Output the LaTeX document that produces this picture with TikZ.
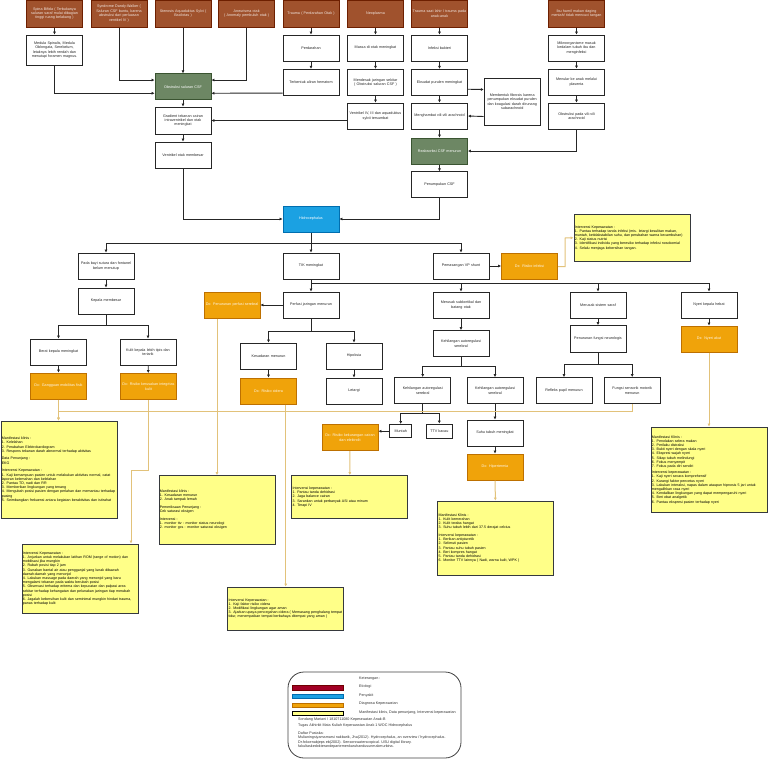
\documentclass[tikz,border=0pt]{standalone}
\usepackage{fontspec}
\setmainfont{Liberation Sans}
\usetikzlibrary{arrows.meta}
\hyphenpenalty=10000
\exhyphenpenalty=10000
\definecolor{brownfill}{HTML}{A0522D}
\definecolor{brownline}{HTML}{6D1F00}
\definecolor{greenfill}{HTML}{6D8764}
\definecolor{greenline}{HTML}{3A5431}
\definecolor{bluefill}{HTML}{1BA1E2}
\definecolor{blueline}{HTML}{006EAF}
\definecolor{orangefill}{HTML}{F0A30A}
\definecolor{orangeline}{HTML}{BD7000}
\definecolor{yellowfill}{HTML}{FFFF88}
\definecolor{yellowline}{HTML}{36393D}
\definecolor{redfill}{HTML}{A20025}
\definecolor{redline}{HTML}{6F0000}
\definecolor{tanline}{HTML}{E2C27A}
\tikzset{
  basebox/.style={draw,line width=1pt,inner sep=0.5pt,align=center,text width=55pt,minimum width=56pt,minimum height=26pt,font=\fontsize{3.7}{4.4}\selectfont},
  whitebox/.style={basebox,draw=black!85,fill=white,text=black!85},
  brownbox/.style={basebox,draw=brownline,fill=brownfill,text=white!85!brownfill,minimum height=27pt},
  greenbox/.style={basebox,draw=greenline,fill=greenfill,text=white},
  bluebox/.style={basebox,draw=blueline,fill=bluefill,text=white},
  dxbox/.style={basebox,draw=orangeline,fill=orangefill,text=white!90!orangefill},
  notebox/.style={draw=yellowline,line width=1pt,fill=yellowfill,inner sep=0.8pt,align=left,minimum width=116pt,text width=114.4pt,font=\fontsize{3.6}{4.2}\selectfont},
  swatch/.style={draw,line width=0.8pt,minimum width=51pt,minimum height=4.5pt,inner sep=0pt,anchor=west},
  legendtext/.style={anchor=west,inner sep=0pt,font=\fontsize{3.7}{4.4}\selectfont,text=black!80},
  flow/.style={draw=black!85,line width=0.9pt,-{Latex[length=2.8pt,width=3pt]}},
  plainflow/.style={draw=black!85,line width=0.9pt},
  noteflow/.style={draw=tanline,line width=1pt,-{Latex[length=2.8pt,width=3pt]}}
}
\begin{document}
\begin{tikzpicture}[x=1pt,y=-1pt]
  \useasboundingbox (0,0) rectangle (768,763);
  % etiology row
  \node [brownbox] (spina) at (54.5,13.5) {Spina Bifida ( Terbukanya\\saluran saraf mulai dibagian\\tinggi ruang belakang )};
  \node [brownbox] (dandy) at (119,13.5) {Syndrome Dandy-Walker (\\Saluran CSF buntu, karena\\abstruksi dari perluasan\\ventikel IV )};
  \node [brownbox] (stenosis) at (183,13.5) {Stenosis Aquaduktus Sylvi (\\Bacilotas )};
  \node [brownbox] (aneurisma) at (246.7,13.5) {Aneurisma otak\\( Anomaly pembuluh otak )};
  \node [brownbox] (trauma) at (311,13.5) {Trauma ( Perdarahan Otak )};
  \node [brownbox] (neoplasma) at (375.5,13.5) {Neoplasma};
  \node [brownbox] (lahir) at (439.5,13.5) {Trauma saat lahir / trauma pada\\anak-anak};
  \node [brownbox] (ibu) at (576.5,13.5) {Ibu hamil makan daging\\mentah/ tidak mencuci tangan};
  % white boxes, top part
  \node [whitebox,minimum height=30pt] (medula) at (54.5,50) {Medula Spinalis, Medula\\Oblongata, Serebelum,\\letaknya lebih rendah dan\\menutupi foramen magnus.};
  \node [whitebox] (perdarahan) at (311,48) {Perdarahan};
  \node [whitebox] (hematom) at (311,82.25) {Terbentuk aliran hematom};
  \node [whitebox] (massa) at (375.5,48) {Massa di otak meningkat};
  \node [whitebox] (mendesak) at (375.5,82.25) {Mendesak jaringan sekitar\\( Obstruksi saluran CSF )};
  \node [whitebox] (ventiv) at (375.5,116) {Ventrikel IV, III dan aquaduktus\\sylvii tersumbat};
  \node [whitebox] (infeksi) at (439.5,48) {Infeksi bakteri};
  \node [whitebox] (eksudat) at (439.5,82.25) {Eksudat purulen meningkat};
  \node [whitebox] (vili) at (439.5,116) {Menghambat vili-vili arachnoid};
  \node [whitebox,minimum height=47pt] (fibrosis) at (512.2,101.5) {Membentuk fibrosis karena\\penumpukan eksudat purulen\\dan koagulasi darah dirunang\\subarachnoid};
  \node [whitebox] (mikro) at (576.5,48) {Mikroorganisme masuk\\kedalam tubuh ibu dan\\menginfeksi};
  \node [whitebox] (plasenta) at (576.5,82) {Menular ke anak melalui\\plasenta};
  \node [whitebox] (obsvili) at (576.5,116) {Obstruksi pada vili-vili\\arachnoid};
  % middle column
  \node [greenbox] (obstruksi) at (183,86.75) {Obstruksi saluran CSF};
  \node [whitebox,minimum height=27pt] (gradient) at (183,120.5) {Gradient tekanan cairan\\intraventrikel dan otak\\meningkat};
  \node [whitebox] (membesar) at (183,155) {Ventrikel otak membesar};
  \node [greenbox] (reabsorbsi) at (439.5,151) {Reabsorbsi CSF menurun};
  \node [whitebox] (penumpukan) at (439.5,184.75) {Penumpukan CSF};
  % disease
  \node [bluebox] (hidro) at (311,219) {Hidrocephalus};
  \coordinate (simpang) at (311,243);
  \coordinate (tikbus) at (311,283);
  % left branch
  \node [whitebox] (bayi) at (106,266) {Pada bayi sutura dan fontanel\\belum menutup};
  \node [whitebox] (kepala) at (106,301) {Kepala membesar};
  \coordinate (kepalabus) at (106,325.5);
  \node [whitebox] (berat) at (58.5,352) {Berat kepala meningkat};
  \node [whitebox] (kulit) at (148,352) {Kulit kepala lebih tipis dan\\teriarik};
  \node [dxbox] (dxgerak) at (58.5,386) {Dx: Gangguan mobilitas fisik};
  \node [dxbox] (dxkulit) at (148.5,386.5) {Dx: Risiko kerusakan integritas\\kulit};
  % TIK branch
  \node [whitebox] (tik) at (311,266) {TIK meningkat};
  \node [whitebox] (perfusi) at (311,305) {Perfusi jaringan menurun};
  \node [dxbox] (dxperfusi) at (232,305) {Dx: Penurunan perfusi serebral};
  \coordinate (perfusibus) at (311,331);
  \node [whitebox] (sadar) at (268.5,356) {Kesadaran menurun};
  \node [whitebox] (hipoksia) at (354,356) {Hipoksia};
  \node [dxbox] (dxcidera) at (268.5,391) {Dx: Risiko cidera};
  \node [whitebox] (letargi) at (354,391) {Letargi};
  % shunt
  \node [whitebox] (shunt) at (461,266) {Pemasangan VP shunt};
  \node [dxbox] (dxinfeksi) at (529.5,266) {Dx: Risiko infeksi};
  % subkortikal
  \node [whitebox] (subkortikal) at (461,305) {Merusak subkortikal dan\\batang otak};
  \node [whitebox] (auto) at (461,343.5) {Kehilangan autoregulasi\\serebral};
  \coordinate (autobus) at (461,366);
  \node [whitebox] (autokiri) at (422.7,390.5) {Kehilangan autoregulasi\\serebral};
  \node [whitebox] (autokanan) at (495,390.5) {Kehilangan autoregulasi\\serebral};
  \coordinate (mualbus) at (422.7,413.5);
  \node [whitebox,minimum width=21.5pt,minimum height=13.5pt,text width=20pt] (muntah) at (400.7,431.2) {Muntah};
  \node [whitebox,minimum width=25.5pt,minimum height=14pt,text width=24pt] (ttv) at (439.3,431) {TTV kacau};
  \node [dxbox] (dxcairan) at (350,437.5) {Dx: Risiko kekurangan cairan\\dan elektrolit};
  \node [whitebox] (suhu) at (495,433) {Suhu tubuh meningkat};
  \node [dxbox] (dxhiper) at (495,467) {Dx: Hipertermia};
  % saraf
  \node [whitebox] (saraf) at (598,305) {Merusak sistem saraf};
  \node [whitebox,minimum height=27pt] (neuro) at (598,339) {Penurunan fungsi neurologis};
  \coordinate (neurobus) at (598,364.5);
  \node [whitebox] (pupil) at (564,390.5) {Refleks pupil menurun};
  \node [whitebox] (motorik) at (632.2,390.5) {Fungsi sensorik motorik\\menurun};
  % nyeri
  \node [whitebox] (nyeri) at (709,305) {Nyeri kepala hebat};
  \node [dxbox] (dxnyeri) at (709,339) {Dx: Nyeri akut};
  % notes
  \node [notebox,minimum height=47.5pt] (notinfeksi) at (632,237.75) {Intervensi Keperawatan :\\1. Pantau terhadap tanda infeksi (mis. letargi kesulitan makan,\\muntah, ketidakstabilan suhu, dan perubahan warna kecambuhan)\\2. Kaji status nutrisi\\3. Identifikasi individu yang beresiko terhadap infeksi nosokomial\\4. Selalu menjaga kebersihan tangan.};
  \node [notebox,minimum height=97pt] (notgerak) at (59,469.5) {Manifestasi klinis :\\1. Kelelahan\\2. Perubahan Elektrokardiogram\\3. Respons tekanan darah abnormal terhadap aktivitas\\[3.5pt]Data Penunjang :\\EKG\\[3.5pt]Intervensi Keperawatan :\\1. Kaji kemampuan pasien untuk melakukan aktivitas normal, catat laporan kelemahan dan kelelahan\\2. Pantau TD, nadi dan RR\\3. Memberikan lingkungan yang tenang\\4. Mengubah posisi pasien dengan perlahan dan memantau terhadap pusing\\5. Seimbangkan frekuensi antara kegiatan beraktivitas dan istirahat};
  \node [notebox,minimum height=69pt] (notkulit) at (80,578.5) {Intervensi Keperawatan :\\1. Anjurkan untuk melakukan latihan ROM (range of motion) dan mobilisasi jika mungkin\\2. Rubah posisi tiap 2 jam\\3. Gunakan bantal air atau pengganjal yang lunak dibawah daerah-daerah yang menonjol\\4. Lakukan massage pada daerah yang menonjol yang baru mengalami tekanan pada waktu berubah posisi\\5. Observasi terhadap eritema dan kepucatan dan palpasi area sekitar terhadap kehangatan dan pelunakan jaringan tiap merubah posisi\\6. Jagalah kebersihan kulit dan seminimal mungkin hindari trauma, panas terhadap kulit};
  \node [notebox,minimum height=68.5pt] (notperfusi) at (217,509.75) {Manifestasi klinis :\\1. Kesadaran menurun\\2. Anak tampak lemah\\[3.5pt]Pemeriksaan Penunjang :\\Cek saturasi oksigen\\[3.5pt]Intervensi :\\1. monitor ttv : monitor status neurologi\\2. monitor gcs : monitor saturasi oksigen\\[8pt]};
  \node [notebox,minimum height=43pt] (notcairan) at (349.7,497) {Intervensi keperawatan :\\1. Pantau tanda dehidrasi\\2. Jaga balance cairan\\3. Sarankan untuk perbanyak ASI atau minum\\4. Terapi IV};
  \node [notebox,minimum height=43pt] (notcidera) at (285.7,608.5) {Intervensi Keperawatan :\\1. Kaji faktor risiko cidera\\2. Modifikasi lingkungan agar aman\\3. Ajarkan upaya pencegahan cidera ( Memasang penghalang tempat tidur, menempatkan tempat berbahaya ditempat yang aman )};
  \node [notebox,minimum height=74pt] (nothiper) at (495.7,538) {Manifestasi Klinis :\\1. Kulit kemerahan\\2. Kulit teraba hangat\\3. Suhu tubuh lebih dari 37.5 derajat celcius\\[3.5pt]Intervensi keperawatan :\\1. Berikan antipiuretik\\2. Selimuti pasien\\3. Pantau suhu tubuh pasien\\4. Beri kompres hangat\\5. Pantau tanda dehidrasi\\6. Monitor TTV lainnya ( Nadi, warna kulit, WPK )};
  \node [notebox,minimum height=85.5pt] (notnyeri) at (709,469.75) {Manifestasi Klinis :\\1. Penolakan selera makan\\2. Perilaku distraksi\\3. Bukti nyeri dengan skala nyeri\\4. Ekspresi wajah nyeri\\5. Sikap tubuh melindungi\\6. Fokus menyempit\\7. Fokus pada diri sendiri\\[2pt]Intervensi keperawatan :\\1. Kaji nyeri secara komprehensif\\2. Kurangi faktor pencetus nyeri\\3. Lakukan interaksi, napas dalam ataupun hipnosis 5 jari untuk mengalihkan rasa nyeri\\4. Kendalikan lingkungan yang dapat mempengaruhi nyeri\\5. Beri obat analgetik\\6. Pantau ekspresi pasien terhadap nyeri};
  % connectors, etiology
  \draw [flow] (spina) -- (medula);
  \draw [flow] (dandy.south) |- ([yshift=6.7pt]obstruksi.west);
  \draw [flow] (stenosis) -- (obstruksi);
  \draw [flow] (aneurisma.south) |- ([yshift=6.7pt]obstruksi.east);
  \draw [flow] (medula.south) |- ([yshift=-6.5pt]obstruksi.west);
  \draw [flow] ([yshift=-10.8pt]hematom.west) -- ([yshift=-6.5pt]obstruksi.east);
  \draw [flow] (obstruksi) -- (gradient);
  \draw [flow] (gradient) -- (membesar);
  \draw [flow] (trauma) -- (perdarahan);
  \draw [flow] (perdarahan) -- (hematom);
  \draw [flow] (neoplasma) -- (massa);
  \draw [flow] (massa) -- (mendesak);
  \draw [flow] (mendesak) -- (ventiv);
  \draw [flow] ([yshift=-4.5pt]ventiv.west) -- (gradient.east);
  \draw [flow] (lahir) -- (infeksi);
  \draw [flow] (infeksi) -- (eksudat);
  \draw [flow] (eksudat) -- (vili);
  \draw [flow] ([yshift=-7pt]eksudat.east) -- ([yshift=12pt]fibrosis.west);
  \draw [flow] ([yshift=-15pt]fibrosis.west) -- (vili.east);
  \draw [flow] (vili) -- (reabsorbsi);
  \draw [flow] (reabsorbsi) -- (penumpukan);
  \draw [flow] (ibu) -- (mikro);
  \draw [flow] (mikro) -- (plasenta);
  \draw [flow] (plasenta) -- (obsvili);
  \draw [flow] (obsvili.south) |- (reabsorbsi.east);
  \draw [flow] (membesar.south) |- (hidro.west);
  \draw [flow] (penumpukan.south) |- (hidro.east);
  % connectors, hidrocephalus
  \draw [flow] (hidro) -- (tik);
  \draw [flow] (simpang) -| (bayi.north);
  \draw [flow] (simpang) -| (shunt.north);
  \draw [flow] (bayi) -- (kepala);
  \draw [plainflow] (kepala.south) -- (kepalabus);
  \draw [flow] (kepalabus) -| (berat.north);
  \draw [flow] (kepalabus) -| (kulit.north);
  \draw [flow] (berat) -- (dxgerak);
  \draw [flow] (kulit) -- (dxkulit);
  \draw [flow] (tik) -- (perfusi);
  \draw [flow] (tikbus) -| (subkortikal.north);
  \draw [flow] (tikbus) -| (saraf.north);
  \draw [flow] (tikbus) -| (nyeri.north);
  \draw [flow] (perfusi) -- (dxperfusi);
  \draw [plainflow] (perfusi.south) -- (perfusibus);
  \draw [flow] (perfusibus) -| (sadar.north);
  \draw [flow] (perfusibus) -| (hipoksia.north);
  \draw [flow] (sadar) -- (dxcidera);
  \draw [flow] (hipoksia) -- (letargi);
  \draw [flow] (shunt) -- (dxinfeksi);
  \draw [flow] (subkortikal) -- (auto);
  \draw [plainflow] (auto.south) -- (autobus);
  \draw [flow] (autobus) -| (autokiri.north);
  \draw [flow] (autobus) -| (autokanan.north);
  \draw [plainflow] (autokiri.south) -- (mualbus);
  \draw [flow] (mualbus) -| (muntah.north);
  \draw [flow] (mualbus) -| (ttv.north);
  \draw [flow] (muntah) -- (dxcairan.east |- muntah);
  \draw [flow] (autokanan) -- (suhu);
  \draw [flow] (suhu) -- (dxhiper);
  \draw [flow] (saraf) -- (neuro);
  \draw [plainflow] (neuro.south) -- (neurobus);
  \draw [flow] (neurobus) -| (pupil.north);
  \draw [flow] (neurobus) -| (motorik.north);
  \draw [flow] (nyeri) -- (dxnyeri);
  % connectors, notes
  \coordinate (infeksibend) at (565,238);
  \coordinate (bus) at (58.5,411);
  \coordinate (kulitbend) at (131,470);
  \draw [noteflow] ([yshift=-0.5pt]dxinfeksi.east) -| (infeksibend) -- (notinfeksi.west);
  \draw [noteflow] (motorik.south) |- (bus) -- (notgerak.north -| bus);
  \draw [noteflow] (dxgerak.south) -- (notgerak.north -| dxgerak);
  \draw [noteflow] (dxkulit.south) |- (kulitbend) -- (notkulit.north -| kulitbend);
  \draw [noteflow] ([xshift=-15pt]dxperfusi.south) -- (notperfusi.north);
  \draw [noteflow] ([xshift=17.2pt]dxcidera.south) -- (notcidera.north);
  \draw [noteflow] (dxcairan) -- (notcairan);
  \draw [noteflow] (dxhiper) -- (nothiper);
  \draw [noteflow] (dxnyeri) -- (notnyeri);
  % legend
  \node [draw=black!75,line width=0.8pt,rounded corners=16pt,minimum width=173pt,minimum height=86pt] (legend) at (374.5,715) {};
  \node [swatch,draw=redline,fill=redfill] (swetiologi) at (292,688) {};
  \node [swatch,draw=blueline,fill=bluefill] (swpenyakit) at (292,696.5) {};
  \node [swatch,draw=orangeline,fill=orangefill] (swdiagnosa) at (292,705.2) {};
  \node [swatch,draw=black,fill=yellowfill] (swmanifest) at (292,713.5) {};
  \node [legendtext] (lgjudul) at (359,679) {Keterangan :};
  \node [legendtext] (lgetiologi) at (359,686.5) {Etiologi};
  \node [legendtext] (lgpenyakit) at (359,695.5) {Penyakit};
  \node [legendtext] (lgdiagnosa) at (359,704) {Diagnosa Keperawatan};
  \node [legendtext] (lgmanifest) at (359,713) {Manifestasi klinis, Data penunjang, Intervensi keperawatan};
  \node [legendtext] (lgnama) at (298,720) {Sondang Mariani / 1810711080 Keperawatan Anak-B};
  \node [legendtext] (lgtugas) at (298,726) {Tugas Akhirkit Mata Kuliah Keperawatan Anak 1 WOC Hidrocephalus};
  \node [legendtext,anchor=north west,align=left] (lgpustaka) at (298,731.5) {Daftar Pustaka:\\Mulianingsiyamamarsi nakbarik, Jha(2012). Hydrocephalus, an overview / hydrocephalus.\\Dr.fokcenabjeps eb(2002). Sensorswaterscopical. USU digital library.\\fakultaskedokterandepartemenkaruhandusunmakmurbina.};
\end{tikzpicture}
\end{document}
